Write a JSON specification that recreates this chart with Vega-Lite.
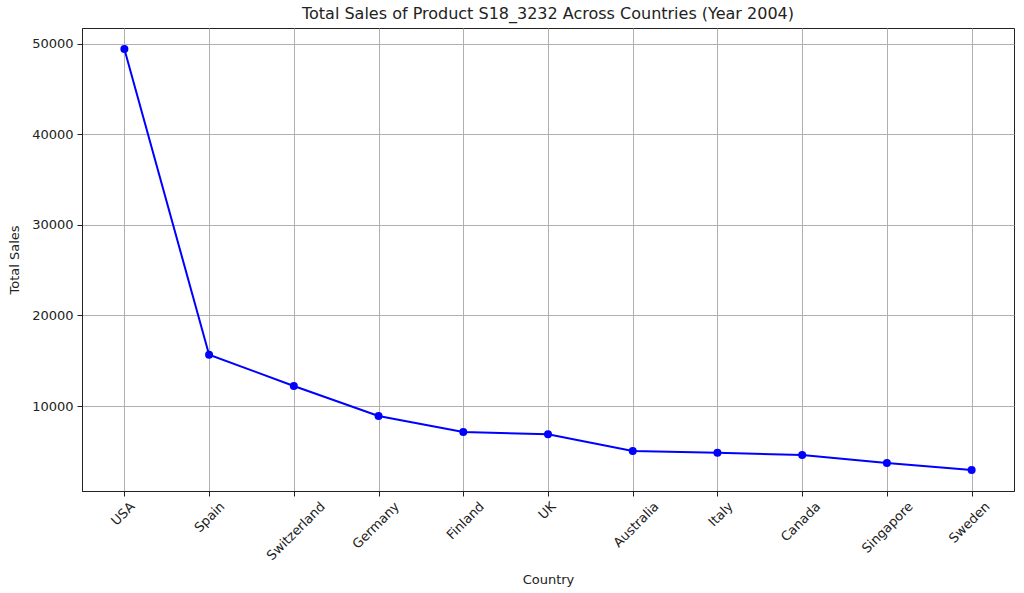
{
  "$schema": "https://vega.github.io/schema/vega-lite/v6.json",
  "width": 932,
  "height": 463,
  "autosize": {"type": "none"},
  "padding": {"left": 82, "top": 28, "right": 10, "bottom": 102},
  "background": "white",
  "config": {
    "font": "DejaVu Sans",
    "view": {"stroke": "#222", "strokeWidth": 1},
    "axis": {
      "labelFont": "DejaVu Sans",
      "titleFont": "DejaVu Sans",
      "labelFontSize": 13,
      "titleFontSize": 13,
      "titleFontWeight": "normal",
      "labelColor": "#222",
      "titleColor": "#222",
      "domainColor": "#222",
      "tickColor": "#222",
      "tickSize": 5,
      "gridColor": "#b0b0b0",
      "gridWidth": 1
    }
  },
  "title": {
    "text": "Total Sales of Product S18_3232 Across Countries (Year 2004)",
    "fontSize": 16,
    "fontWeight": "normal",
    "font": "DejaVu Sans",
    "color": "#222",
    "anchor": "middle",
    "offset": 6
  },
  "data": {
    "values": [
      {"Country": "USA", "TotalSales": 49400},
      {"Country": "Spain", "TotalSales": 15660},
      {"Country": "Switzerland", "TotalSales": 12210},
      {"Country": "Germany", "TotalSales": 8900},
      {"Country": "Finland", "TotalSales": 7130},
      {"Country": "UK", "TotalSales": 6880},
      {"Country": "Australia", "TotalSales": 5030},
      {"Country": "Italy", "TotalSales": 4850},
      {"Country": "Canada", "TotalSales": 4590},
      {"Country": "Singapore", "TotalSales": 3710},
      {"Country": "Sweden", "TotalSales": 2940}
    ]
  },
  "encoding": {
    "x": {
      "field": "Country",
      "type": "ordinal",
      "sort": null,
      "scale": {"type": "point", "padding": 0.5},
      "axis": {
        "title": "Country",
        "labelAngle": -45,
        "labelAlign": "right",
        "labelBaseline": "middle",
        "labelPadding": 8,
        "labelOffset": {"expr": "length(datum.label) * 2.6"},
        "titlePadding": 11,
        "grid": true
      }
    },
    "y": {
      "field": "TotalSales",
      "type": "quantitative",
      "scale": {"domain": [620, 51720], "nice": false, "zero": false},
      "axis": {
        "title": "Total Sales",
        "values": [10000, 20000, 30000, 40000, 50000],
        "format": "d",
        "labelPadding": 4,
        "titlePadding": 10,
        "grid": true
      }
    }
  },
  "layer": [
    {"mark": {"type": "line", "color": "#0000ff", "strokeWidth": 2}},
    {"mark": {"type": "point", "filled": true, "color": "#0000ff", "size": 64, "opacity": 1}}
  ]
}
